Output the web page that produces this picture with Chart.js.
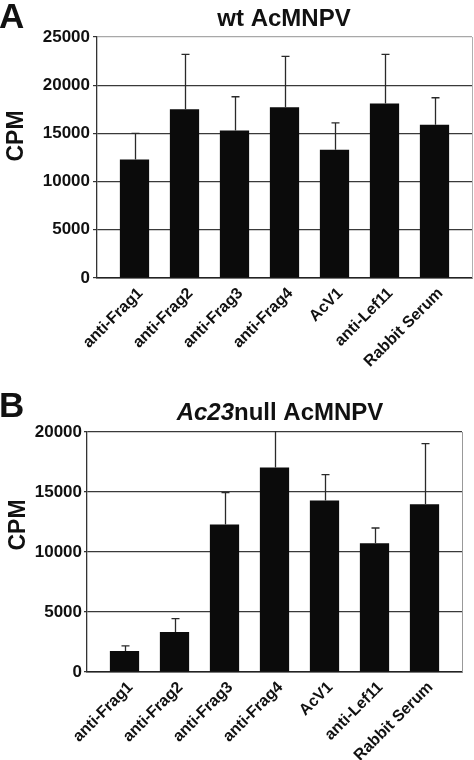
<!DOCTYPE html>
<html>
<head>
<meta charset="utf-8">
<script src="https://cdn.jsdelivr.net/npm/chart.js@4.4.1/dist/chart.umd.min.js"></script>
<style>
  html, body { margin: 0; padding: 0; background: #fff; }
  body { width: 474px; height: 760px; overflow: hidden; }
  .panel { position: absolute; left: 0; width: 474px; height: 380px; }
  #pA { top: 0; }
  #pB { top: 380px; }
</style>
</head>
<body>
<div class="panel" id="pA"><canvas id="cA" width="474" height="380"></canvas></div>
<div class="panel" id="pB"><canvas id="cB" width="474" height="380"></canvas></div>
<script>
// ---- Data ----
const categories = ["anti-Frag1", "anti-Frag2", "anti-Frag3", "anti-Frag4", "AcV1", "anti-Lef11", "Rabbit Serum"];

const wtValues = [12300, 17500, 15300, 17700, 13300, 18100, 15900];
const wtErrors = [2700, 5700, 3500, 5300, 2800, 5100, 2800];

const nullValues = [1750, 3330, 12300, 17050, 14300, 10730, 13970];
const nullErrors = [420, 1120, 2650, 3500, 2150, 1270, 5060];

const wtTicks = [0, 5000, 10000, 15000, 20000, 25000];
const nullTicks = [0, 5000, 10000, 15000, 20000];

const FONT = "'Liberation Sans', Arial, sans-serif";

// ---- Plugins ----
const errorBarPlugin = {
  id: 'errorBars',
  afterDatasetsDraw(chart, args, opts) {
    const {ctx, chartArea, scales: {x, y}} = chart;
    const vals = opts.values, errs = opts.errors;
    ctx.save();
    ctx.beginPath();
    ctx.rect(chartArea.left, chartArea.top - 1, chartArea.right - chartArea.left, chartArea.bottom - chartArea.top + 1);
    ctx.clip();
    ctx.strokeStyle = '#2a2a2a';
    ctx.lineWidth = 1.3;
    vals.forEach((v, i) => {
      const px = Math.round(x.getPixelForValue(i)) + 0.5;
      const yb = y.getPixelForValue(v);
      const yt = y.getPixelForValue(v + errs[i]);
      ctx.beginPath();
      ctx.moveTo(px, yb);
      ctx.lineTo(px, yt);
      ctx.moveTo(px - 4, yt);
      ctx.lineTo(px + 4, yt);
      ctx.stroke();
    });
    ctx.restore();
  }
};

const decorPlugin = {
  id: 'decor',
  afterDraw(chart, args, opts) {
    const {ctx, chartArea} = chart;
    ctx.save();
    // right border
    ctx.strokeStyle = opts.borderColor;
    ctx.lineWidth = 1;
    ctx.beginPath();
    ctx.moveTo(chartArea.right + 0.5, chartArea.top);
    ctx.lineTo(chartArea.right + 0.5, chartArea.bottom);
    ctx.stroke();
    ctx.fillStyle = '#111';
    // panel letter
    ctx.font = 'bold 35px ' + FONT;
    ctx.textAlign = 'left';
    ctx.textBaseline = 'alphabetic';
    ctx.fillText(opts.letter, -1, opts.letterY);
    // title (possibly mixed italic)
    let total = 0;
    const widths = opts.title.map(p => {
      ctx.font = (p.italic ? 'italic ' : '') + 'bold 24px ' + FONT;
      const w = ctx.measureText(p.text).width;
      total += w;
      return w;
    });
    let tx = opts.titleX - total / 2;
    opts.title.forEach((p, i) => {
      ctx.font = (p.italic ? 'italic ' : '') + 'bold 24px ' + FONT;
      ctx.fillText(p.text, tx, opts.titleY);
      tx += widths[i];
    });
    // y axis title
    ctx.translate(opts.yTitleX, opts.yTitleY);
    ctx.rotate(-Math.PI / 2);
    ctx.font = 'bold 23px ' + FONT;
    ctx.textAlign = 'center';
    ctx.textBaseline = 'middle';
    ctx.fillText('CPM', 0, 0);
    ctx.restore();
  }
};

function makeChart(canvasId, values, errors, ticks, cfg) {
  const yMax = ticks[ticks.length - 1];
  return new Chart(document.getElementById(canvasId), {
    type: 'bar',
    data: {
      datasets: [{
        data: values.map((v, i) => ({x: i, y: v})),
        backgroundColor: '#0b0b0b',
        borderWidth: 0,
        barPercentage: 0.585,
        categoryPercentage: 1.0
      }]
    },
    options: {
      responsive: false,
      animation: false,
      devicePixelRatio: 1,
      layout: { padding: { top: cfg.top, right: cfg.right, left: 0, bottom: 0 } },
      plugins: {
        legend: { display: false },
        tooltip: { enabled: false },
        title: { display: false },
        errorBars: { values: values, errors: errors },
        decor: cfg.decor
      },
      scales: {
        x: {
          type: 'linear',
          offset: false,
          min: -0.75,
          max: 6.75,
          afterFit(scale) { scale.height = cfg.xHeight; },
          afterBuildTicks(scale) { scale.ticks = categories.map((c, i) => ({value: i})); },
          grid: { display: false, drawTicks: false, offset: false },
          border: { display: true, color: '#222', width: 1.5 },
          ticks: {
            autoSkip: false,
            maxRotation: 45,
            minRotation: 45,
            padding: cfg.xPad,
            labelOffset: 6,
            color: '#111',
            font: { family: FONT, weight: 'bold', size: 16 },
            callback: (v) => categories[v]
          }
        },
        y: {
          min: 0,
          max: yMax,
          afterFit(scale) { scale.width = cfg.yWidth; },
          afterBuildTicks(scale) { scale.ticks = ticks.map(t => ({value: t})); },
          grid: {
            color: (ctx) => (ctx.tick && ctx.tick.value === yMax) ? cfg.topGrid : '#3a3a3a',
            lineWidth: 1.2,
            tickLength: cfg.tickLen,
            tickColor: '#333'
          },
          border: { display: true, color: '#333', width: 1.3 },
          ticks: {
            padding: cfg.yPad,
            color: '#111',
            font: { family: FONT, weight: 'bold', size: 17 },
            callback: (v) => String(v)
          }
        }
      }
    },
    plugins: [errorBarPlugin, decorPlugin]
  });
}

makeChart('cA', wtValues, wtErrors, wtTicks, {
  top: 37, right: 2, xHeight: 102, yWidth: 97, tickLen: 4, yPad: 3, xPad: 6, topGrid: '#a8a8a8',
  decor: {
    letter: 'A', letterY: 28, borderColor: '#b0b0b0',
    title: [{text: 'wt AcMNPV', italic: false}], titleX: 284, titleY: 26,
    yTitleX: 17, yTitleY: 136
  }
});

makeChart('cB', nullValues, nullErrors, nullTicks, {
  top: 52, right: 12, xHeight: 88, yWidth: 87, tickLen: 3, yPad: 2, xPad: 6, topGrid: '#3a3a3a',
  decor: {
    letter: 'B', letterY: 37, borderColor: '#999',
    title: [{text: 'Ac23', italic: true}, {text: 'null AcMNPV', italic: false}], titleX: 280, titleY: 40,
    yTitleX: 19, yTitleY: 145
  }
});
</script>
</body>
</html>
